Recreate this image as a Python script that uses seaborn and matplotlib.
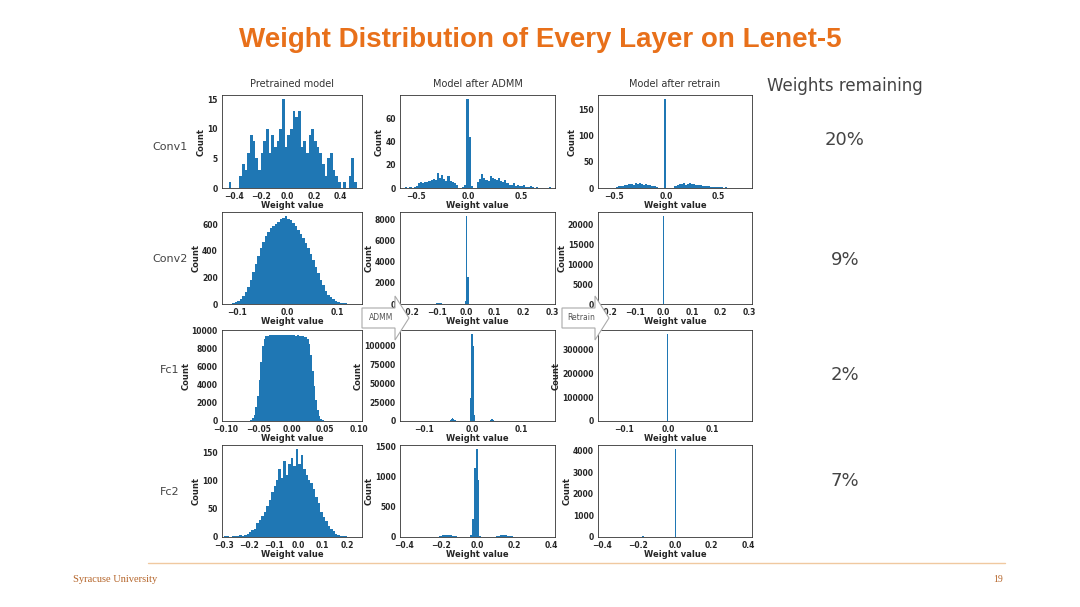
import numpy as np
import matplotlib
matplotlib.use("Agg")
import matplotlib.pyplot as plt
from matplotlib.patches import Polygon
import seaborn as sns

# ---- data ----
layers = ["Conv1", "Conv2", "Fc1", "Fc2"]
columns = ["Pretrained model", "Model after ADMM", "Model after retrain"]
remaining = ["20%", "9%", "2%", "7%"]

# pretrained: start, bin width, counts
conv1_pre_start, conv1_pre_bw = -0.44, 0.02
conv1_pre = [1, 0, 0, 0, 2, 4, 3, 6, 9, 8, 5, 3, 6, 8, 10, 6, 9, 7, 8, 10, 15, 7, 9, 10,
             13, 12, 13, 7, 8, 6, 9, 10, 8, 7, 6, 4, 2, 5, 6, 3, 2, 1, 0, 1, 0, 2, 5, 1]
conv2_pre_start, conv2_pre_bw = -0.115, 0.005
conv2_pre = [3, 8, 15, 25, 40, 60, 90, 130, 180, 240, 300, 360, 420, 470, 510, 540, 570, 590,
             600, 620, 640, 650, 660, 640, 630, 610, 590, 560, 530, 500, 460, 420, 380, 330,
             280, 230, 180, 140, 100, 70, 50, 35, 25, 15, 10, 6, 4, 2, 1, 1, 0, 0, 0, 0]
fc1_pre_start, fc1_pre_bw = -0.065, 0.0025
fc1_pre = [30, 100, 300, 700, 1500, 2800, 4500, 6500, 8200, 9000, 9300, 9350, 9400, 9400,
           9450, 9400, 9450, 9500, 9450, 9500, 9500, 9450, 9500, 9400, 9450, 9400, 9450,
           9400, 9350, 9400, 9300, 9350, 9300, 9250, 9200, 9000, 8500, 7200, 5500, 3800,
           2300, 1200, 500, 200, 80, 30]
fc2_pre_start, fc2_pre_bw = -0.3, 0.01
fc2_pre = [1, 1, 0, 1, 1, 2, 3, 2, 4, 6, 8, 12, 15, 25, 30, 38, 45, 55, 65, 80, 90, 100, 120,
           105, 135, 110, 130, 140, 125, 155, 130, 145, 120, 110, 100, 95, 85, 70, 60, 45,
           35, 28, 20, 15, 10, 6, 3, 2, 1, 1, 0]

# ADMM / retrain: start, bin width, counts
conv1_admm_start, conv1_admm_bw = -0.6, 0.02
conv1_admm = [1, 0, 1, 0, 1, 2, 4, 5, 4, 5, 5, 6, 7, 8, 7, 13, 9, 11, 8, 6, 10, 6, 5, 4, 3,
              0, 0, 1, 3, 76, 44, 2, 0, 0, 5, 8, 12, 9, 7, 6, 10, 9, 8, 7, 9, 6, 5, 7, 4, 3,
              3, 4, 2, 3, 2, 2, 3, 1, 1, 2, 1, 0, 1, 0, 0, 0, 0, 0, 1, 0]
conv1_ret_start, conv1_ret_bw = -0.6, 0.02
conv1_ret = [0, 0, 0, 0, 0, 0, 2, 3, 3, 4, 5, 6, 7, 8, 6, 10, 7, 9, 8, 6, 7, 5, 6, 4, 3,
             1, 0, 0, 0, 170, 0, 0, 0, 0, 3, 5, 8, 7, 9, 6, 8, 9, 7, 8, 6, 5, 6, 4, 3, 4,
             3, 2, 2, 1, 1, 1, 1, 0, 1, 0]
conv2_admm_start, conv2_admm_bw = -0.11, 0.005
conv2_admm = [20, 60, 80, 70, 50, 20, 5, 0, 0, 0, 0, 0, 0, 0, 0, 0, 0, 0, 0, 0, 0, 300,
              8300, 2600, 0, 0, 0, 0, 0, 0, 0, 0, 0, 0, 0, 0, 0, 10, 30, 40, 30, 10]
conv2_ret_start, conv2_ret_bw = -0.11, 0.003
conv2_ret = [5, 8, 6, 4, 2, 0, 0, 0, 0, 0, 0, 0, 0, 0, 0, 0, 0, 0, 0, 0, 0, 0, 0, 0, 0, 0,
             0, 0, 0, 0, 0, 0, 0, 0, 0, 0, 22000]
fc1_admm_start, fc1_admm_bw = -0.05, 0.0025
fc1_admm = [500, 1500, 2800, 3500, 2500, 1200, 400, 100, 0, 0, 0, 0, 0, 0, 0, 0, 0, 0,
            30000, 115000, 100000, 8000, 0, 0, 0, 0, 0, 0, 0, 0, 0, 0, 100, 600, 1800,
            3200, 2800, 1500, 500, 100]
fc1_ret_start, fc1_ret_bw = -0.05, 0.0025
fc1_ret = [100, 300, 600, 800, 600, 300, 100, 0, 0, 0, 0, 0, 0, 0, 0, 0, 0, 0, 0, 365000,
           0, 0, 0, 0, 0, 0, 0, 0, 0, 0, 0, 0, 0, 100, 300, 500, 400, 200]
fc2_admm_start, fc2_admm_bw = -0.21, 0.01
fc2_admm = [10, 20, 25, 30, 30, 28, 25, 20, 15, 10, 0, 0, 0, 0, 0, 0, 0, 30, 300, 1150,
            1450, 950, 20, 0, 0, 0, 0, 0, 0, 0, 0, 10, 20, 25, 28, 30, 25, 22, 18, 12, 6]
fc2_ret_start, fc2_ret_bw = -0.2, 0.005
fc2_ret = [5, 10, 15, 20, 25, 25, 20, 15, 10, 5, 0, 0, 0, 0, 0, 0, 0, 0, 0, 0, 0, 0, 0, 0,
           0, 0, 0, 0, 0, 0, 0, 0, 0, 0, 0, 0, 0, 0, 0, 0, 4050, 0, 0, 0, 0, 0, 0, 0, 0, 0,
           0, 0, 0, 0, 0, 0, 0, 0, 0, 0, 0, 0, 0, 0, 0, 0, 0, 0, 5, 10, 15, 20, 20, 15, 10, 5]

panels = [
    [(conv1_pre_start, conv1_pre_bw, conv1_pre), (conv1_admm_start, conv1_admm_bw, conv1_admm),
     (conv1_ret_start, conv1_ret_bw, conv1_ret)],
    [(conv2_pre_start, conv2_pre_bw, conv2_pre), (conv2_admm_start, conv2_admm_bw, conv2_admm),
     (conv2_ret_start, conv2_ret_bw, conv2_ret)],
    [(fc1_pre_start, fc1_pre_bw, fc1_pre), (fc1_admm_start, fc1_admm_bw, fc1_admm),
     (fc1_ret_start, fc1_ret_bw, fc1_ret)],
    [(fc2_pre_start, fc2_pre_bw, fc2_pre), (fc2_admm_start, fc2_admm_bw, fc2_admm),
     (fc2_ret_start, fc2_ret_bw, fc2_ret)],
]

# axis limits / ticks
xlims = [
    [(-0.49, 0.56), (-0.65, 0.82), (-0.65, 0.82)],
    [(-0.13, 0.15), (-0.23, 0.31), (-0.23, 0.31)],
    [(-0.105, 0.105), (-0.15, 0.17), (-0.16, 0.19)],
    [(-0.31, 0.26), (-0.42, 0.42), (-0.42, 0.42)],
]
xticks = [
    [[-0.4, -0.2, 0.0, 0.2, 0.4], [-0.5, 0.0, 0.5], [-0.5, 0.0, 0.5]],
    [[-0.1, 0.0, 0.1], [-0.2, -0.1, 0.0, 0.1, 0.2, 0.3], [-0.2, -0.1, 0.0, 0.1, 0.2, 0.3]],
    [[-0.10, -0.05, 0.0, 0.05, 0.10], [-0.1, 0.0, 0.1], [-0.1, 0.0, 0.1]],
    [[-0.3, -0.2, -0.1, 0.0, 0.1, 0.2], [-0.4, -0.2, 0.0, 0.2, 0.4], [-0.4, -0.2, 0.0, 0.2, 0.4]],
]
xfmt = [["%.1f"] * 3, ["%.1f"] * 3, ["%.2f", "%.1f", "%.1f"], ["%.1f"] * 3]
yticks = [
    [[0, 5, 10, 15], [0, 20, 40, 60], [0, 50, 100, 150]],
    [[0, 200, 400, 600], [0, 2000, 4000, 6000, 8000], [0, 5000, 10000, 15000, 20000]],
    [[0, 2000, 4000, 6000, 8000, 10000], [0, 25000, 50000, 75000, 100000], [0, 100000, 200000, 300000]],
    [[0, 50, 100, 150], [0, 500, 1000, 1500], [0, 1000, 2000, 3000, 4000]],
]

W, H = 1080, 607
fig = plt.figure(figsize=(W / 100, H / 100), dpi=100)
fig.patch.set_facecolor("white")
sns.set_style("white")

col_x = [(222, 362), (400, 555), (598, 752)]
row_y = [(95, 188), (212, 304), (330, 421), (445, 537)]
blue = "#1f77b4"
orange = "#e8701a"


def px(x, y):
    return x / W, 1 - y / H


# block arrows between columns (drawn first, behind the axes)
for xa, label in [(362, "ADMM"), (562, "Retrain")]:
    pts = [(xa, 308), (xa + 33, 308), (xa + 33, 296), (xa + 47, 318), (xa + 33, 340),
           (xa + 33, 328), (xa, 328)]
    fig.patches.append(Polygon([px(*p) for p in pts], closed=True, transform=fig.transFigure,
                               facecolor="white", edgecolor="#aaaaaa", linewidth=0.8, zorder=0))
    fig.text(*px(xa + 19, 318), label, ha="center", va="center", fontsize=5.5, color="#555555")

for r in range(4):
    for c in range(3):
        x0, x1 = col_x[c]
        y0, y1 = row_y[r]
        ax = fig.add_axes([x0 / W, 1 - y1 / H, (x1 - x0) / W, (y1 - y0) / H])
        start, bw, counts = panels[r][c]
        counts = np.array(counts, dtype=float)
        centers = start + bw * (np.arange(len(counts)) + 0.5)
        sns.histplot(x=centers, weights=counts, binwidth=bw,
                     binrange=(start, start + bw * len(counts)),
                     color=blue, alpha=1, edgecolor=None, linewidth=0, ax=ax)
        ax.set_xlim(*xlims[r][c])
        ax.set_xticks(xticks[r][c])
        ax.set_xticklabels([(xfmt[r][c] % t).replace("-", "\u2212") for t in xticks[r][c]])
        ax.set_yticks(yticks[r][c])
        ax.set_ylim(0, None)
        ax.tick_params(labelsize=5.5, length=2, width=0.6, pad=1)
        for lab in ax.get_xticklabels() + ax.get_yticklabels():
            lab.set_fontweight("bold")
        ax.set_xlabel("Weight value", fontsize=6, fontweight="bold", labelpad=0)
        ax.set_ylabel("Count", fontsize=6, fontweight="bold", labelpad=1)
        for s in ax.spines.values():
            s.set_linewidth(0.6)
            s.set_color("#333333")

# title
fig.text(*px(540, 40), "Weight Distribution of Every Layer on Lenet-5", ha="center", va="center",
         fontsize=20, fontweight="bold", color=orange, family="Liberation Sans")

for c, name in enumerate(columns):
    fig.text(*px((col_x[c][0] + col_x[c][1]) / 2, 84), name, ha="center", va="center",
             fontsize=7, color="#333333")
fig.text(*px(845, 86), "Weights remaining", ha="center", va="center", fontsize=12, color="#444444")

row_lab_y = [147, 259, 370, 492]
pct_y = [140, 260, 375, 481]
for r in range(4):
    fig.text(*px(170, row_lab_y[r]), layers[r], ha="center", va="center", fontsize=8, color="#444444")
    fig.text(*px(845, pct_y[r]), remaining[r], ha="center", va="center", fontsize=13, color="#444444")

# footer
fig.add_artist(plt.Line2D([148 / W, 1005 / W], [1 - 563 / H] * 2, color="#f0c9a0", linewidth=1))
fig.text(*px(73, 580), "Syracuse University", ha="left", va="center", fontsize=7.5,
         color="#b5652a", family="Liberation Serif")
fig.text(*px(998, 580), "19", ha="center", va="center", fontsize=7, color="#b5652a",
         family="Liberation Serif")

fig.savefig("out.png", dpi=100)
